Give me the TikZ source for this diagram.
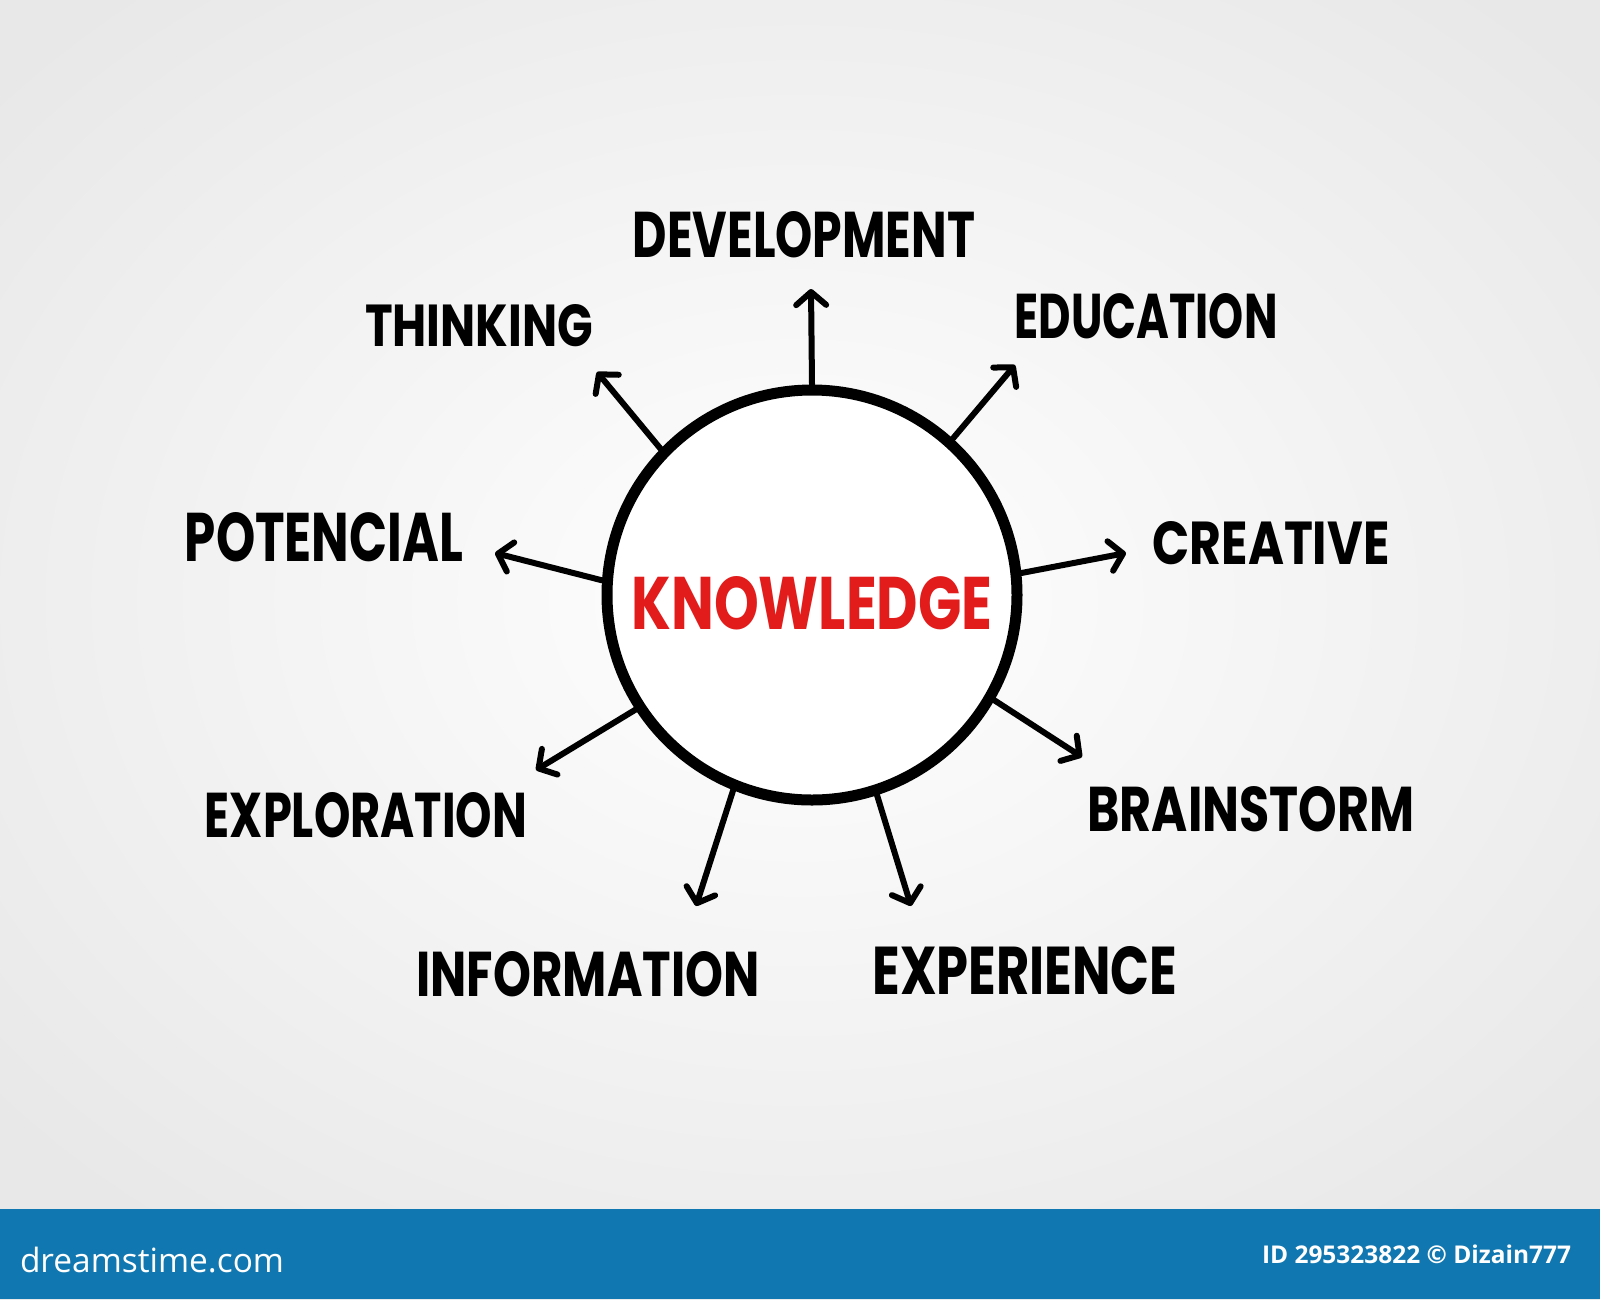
\documentclass[tikz,border=0pt]{standalone}
\usepackage{fontspec}
\usepackage{graphicx}
\usetikzlibrary{arrows.meta}
\newfontfamily\handfont{Poppins}
\newfontfamily\barfont{Open Sans}
\definecolor{kred}{RGB}{226,27,27}
\definecolor{barblue}{RGB}{16,119,176}
\newcommand\lbl[3]{\resizebox{#1pt}{#2pt}{\handfont\bfseries #3}}
\tikzset{
  arr/.style={line width=6pt, line cap=round, -{Straight Barb[length=13pt,width=30pt,line width=6pt,round]}},
  lab/.style={inner sep=0pt, outer sep=0pt, text=black},
  hub/.style={circle, draw=black, line width=11pt, minimum size=410pt, inner sep=0pt, fill=white}
}
\begin{document}
\begin{tikzpicture}[x=1pt,y=-1pt]
\useasboundingbox (0,0) rectangle (1600,1299);
\shade[inner color=white, outer color=black!9] (-250,-200) rectangle (1850,1400);
\fill[barblue] (0,1209) rectangle (1600,1299);
\node[lab, text=white, anchor=west] (site) at (20,1260) {\resizebox{264pt}{!}{\barfont dreamstime.com}};
\node[lab, text=white, anchor=east] (id) at (1571,1254) {\resizebox{309pt}{!}{\barfont\bfseries ID 295323822 © Dizain777}};

\node[hub] (k) at (812,595) {};
\node[lab, text=kred] (kt) at (812,603) {\lbl{361}{53}{KNOWLEDGE}};

\node[lab] (dev) at (804,235) {\lbl{342}{46}{DEVELOPMENT}};
\node[lab] (edu) at (1146,316) {\lbl{263}{45}{EDUCATION}};
\node[lab] (cre) at (1271,543) {\lbl{237}{43}{CREATIVE}};
\node[lab] (bra) at (1251,809) {\lbl{327}{45}{BRAINSTORM}};
\node[lab] (exp) at (1025,971) {\lbl{305}{48}{EXPERIENCE}};
\node[lab] (inf) at (588,974) {\lbl{343}{45}{INFORMATION}};
\node[lab] (xpl) at (366,815) {\lbl{322}{45}{EXPLORATION}};
\node[lab] (pot) at (324,537) {\lbl{278}{49}{POTENCIAL}};
\node[lab] (thi) at (479,326) {\lbl{228}{42}{THINKING}};

\coordinate (tdev) at (811,289);
\coordinate (tedu) at (1015,365);
\coordinate (tcre) at (1126,553);
\coordinate (tbra) at (1082,757);
\coordinate (texp) at (911,906);
\coordinate (tinf) at (696,906);
\coordinate (txpl) at (536,770);
\coordinate (tpot) at (495,553);
\coordinate (tthi) at (597,372);

\draw[arr] (k.90) -- (tdev);
\draw[arr] (k.48) -- (tedu);
\draw[arr] (k.6.6) -- (tcre);
\draw[arr] (k.-30.8) -- (tbra);
\draw[arr] (k.-72.2) -- (texp);
\draw[arr] (k.248.4) -- (tinf);
\draw[arr] (k.213.9) -- (txpl);
\draw[arr] (k.176) -- (tpot);
\draw[arr] (k.136.5) -- (tthi);
\end{tikzpicture}
\end{document}
